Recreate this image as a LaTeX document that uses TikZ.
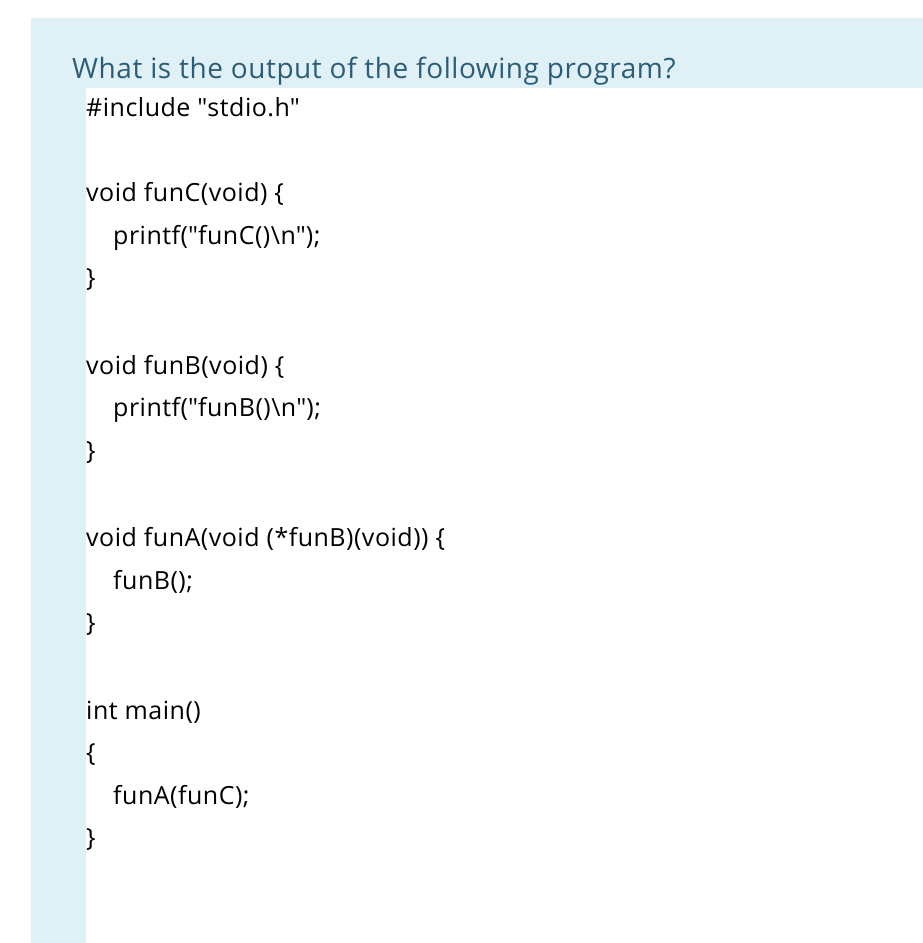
\documentclass[tikz,border=0pt]{standalone}
\usepackage{fontspec}
\setmainfont{Open Sans}[LetterSpace=2]
\definecolor{panel}{HTML}{DFF0F7}
\definecolor{titlec}{HTML}{2C5D78}
\newcommand{\dq}{\textquotedbl}
\begin{document}
\begin{tikzpicture}[x=1pt,y=-1pt,
  code/.style={anchor=base west,inner sep=0pt,font=\fontsize{25}{30}\selectfont,text=black},
  ttl/.style={anchor=base west,inner sep=0pt,font=\fontsize{28}{32}\selectfont,text=titlec}]
\useasboundingbox (0,0) rectangle (923,943);
\fill[white] (0,0) rectangle (923,943);
\fill[panel] (31,18) rectangle (923,88);
\fill[panel] (31,18) rectangle (86,943);
\node[ttl] (t) at (72,78) {What is the output of the following program?};
\node[code] (l1) at (86,116) {\#include \dq stdio.h\dq};
\node[code] (l2) at (86,201) {void funC(void) \{};
\node[code] (l3) at (113,244) {printf(\dq funC()\textbackslash n\dq);};
\node[code] (l4) at (86,286) {\}};
\node[code] (l5) at (86,374) {void funB(void) \{};
\node[code] (l6) at (113,416) {printf(\dq funB()\textbackslash n\dq);};
\node[code] (l7) at (86,459) {\}};
\node[code] (l8) at (86,546) {void funA(void (*funB)(void)) \{};
\node[code] (l9) at (113,589) {funB();};
\node[code] (l10) at (86,631) {\}};
\node[code] (l11) at (86,719) {int main()};
\node[code] (l12) at (86,761) {\{};
\node[code] (l13) at (113,804) {funA(funC);};
\node[code] (l14) at (86,846) {\}};
\end{tikzpicture}
\end{document}
